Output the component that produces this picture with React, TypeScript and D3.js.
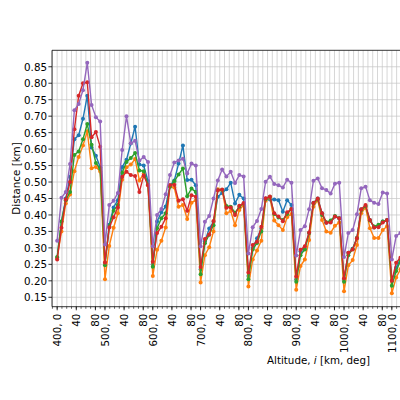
import React from 'react';
import * as d3 from 'd3';

const altitudes = [400, 500, 600, 700, 800, 900, 1000, 1100];
const inclinations = [0, 9, 18, 27, 36, 45, 54, 63, 72, 81, 90];
const yTicks = [0.15, 0.2, 0.25, 0.3, 0.35, 0.4, 0.45, 0.5, 0.55, 0.6, 0.65, 0.7, 0.75, 0.8, 0.85];
const xTickOffsets = [0, 40, 80];

const seriesBlue = [
  0.27, 0.38, 0.45, 0.515, 0.63, 0.642, 0.692, 0.762, 0.605, 0.58, 0.545,
  0.255, 0.37, 0.423, 0.445, 0.546, 0.568, 0.617, 0.668, 0.553, 0.55, 0.503,
  0.25, 0.38, 0.408, 0.426, 0.489, 0.505, 0.556, 0.611, 0.506, 0.507, 0.49,
  0.235, 0.32, 0.359, 0.379, 0.455, 0.467, 0.478, 0.498, 0.435, 0.461, 0.45,
  0.215, 0.3, 0.329, 0.359, 0.45, 0.447, 0.447, 0.445, 0.41, 0.445, 0.43,
  0.205, 0.29, 0.3, 0.345, 0.437, 0.45, 0.405, 0.376, 0.379, 0.395, 0.39,
  0.205, 0.285, 0.297, 0.33, 0.417, 0.425, 0.385, 0.362, 0.365, 0.38, 0.385,
  0.2, 0.24, 0.265,
];
const seriesOrange = [
  0.27, 0.35, 0.435, 0.462, 0.533, 0.576, 0.611, 0.654, 0.542, 0.546, 0.532,
  0.205, 0.306, 0.361, 0.405, 0.507, 0.545, 0.553, 0.57, 0.505, 0.525, 0.49,
  0.215, 0.294, 0.322, 0.362, 0.487, 0.483, 0.425, 0.43, 0.388, 0.437, 0.445,
  0.195, 0.278, 0.302, 0.35, 0.478, 0.476, 0.405, 0.412, 0.369, 0.415, 0.43,
  0.183, 0.265, 0.292, 0.322, 0.443, 0.453, 0.383, 0.369, 0.354, 0.393, 0.403,
  0.173, 0.245, 0.265, 0.324, 0.425, 0.445, 0.385, 0.35, 0.346, 0.367, 0.377,
  0.168, 0.247, 0.263, 0.309, 0.405, 0.423, 0.36, 0.33, 0.33, 0.354, 0.366,
  0.162, 0.21, 0.235,
];
const seriesGreen = [
  0.272, 0.38, 0.445, 0.47, 0.582, 0.593, 0.63, 0.676, 0.613, 0.558, 0.54,
  0.247, 0.366, 0.413, 0.43, 0.528, 0.561, 0.573, 0.588, 0.535, 0.533, 0.493,
  0.243, 0.36, 0.39, 0.405, 0.486, 0.502, 0.523, 0.541, 0.457, 0.48, 0.47,
  0.22, 0.314, 0.34, 0.369, 0.475, 0.476, 0.427, 0.425, 0.407, 0.425, 0.435,
  0.205, 0.295, 0.315, 0.35, 0.448, 0.455, 0.403, 0.392, 0.385, 0.403, 0.418,
  0.197, 0.278, 0.295, 0.345, 0.435, 0.448, 0.4, 0.378, 0.383, 0.397, 0.39,
  0.197, 0.278, 0.296, 0.33, 0.415, 0.427, 0.383, 0.365, 0.37, 0.38, 0.384,
  0.185, 0.23, 0.26,
];
const seriesRed = [
  0.265, 0.361, 0.447, 0.5, 0.66, 0.762, 0.8, 0.803, 0.636, 0.652, 0.607,
  0.256, 0.362, 0.393, 0.423, 0.516, 0.531, 0.521, 0.518, 0.47, 0.52, 0.49,
  0.258, 0.345, 0.364, 0.39, 0.491, 0.492, 0.443, 0.448, 0.413, 0.46, 0.455,
  0.242, 0.327, 0.341, 0.382, 0.475, 0.477, 0.422, 0.423, 0.4, 0.428, 0.436,
  0.225, 0.309, 0.319, 0.364, 0.451, 0.456, 0.405, 0.395, 0.381, 0.408, 0.418,
  0.213, 0.294, 0.305, 0.347, 0.436, 0.45, 0.405, 0.376, 0.377, 0.395, 0.39,
  0.208, 0.285, 0.295, 0.329, 0.417, 0.43, 0.385, 0.362, 0.363, 0.377, 0.385,
  0.2, 0.255, 0.27,
];
const seriesPurple = [
  0.322, 0.452, 0.47, 0.555, 0.718, 0.737, 0.779, 0.862, 0.734, 0.697, 0.684,
  0.31, 0.43, 0.443, 0.467, 0.597, 0.7, 0.618, 0.625, 0.565, 0.576, 0.561,
  0.305, 0.4, 0.418, 0.463, 0.521, 0.559, 0.565, 0.571, 0.526, 0.556, 0.55,
  0.305, 0.379, 0.397, 0.45, 0.505, 0.538, 0.517, 0.531, 0.497, 0.521, 0.517,
  0.283, 0.363, 0.382, 0.418, 0.501, 0.516, 0.494, 0.49, 0.483, 0.507, 0.498,
  0.277, 0.354, 0.366, 0.417, 0.504, 0.511, 0.481, 0.476, 0.465, 0.495, 0.498,
  0.272, 0.345, 0.354, 0.402, 0.481, 0.486, 0.445, 0.437, 0.433, 0.468, 0.465,
  0.265, 0.336, 0.345,
];

const seriesList = [
  { name: 'blue', color: '#1f77b4', values: seriesBlue },
  { name: 'orange', color: '#ff7f0e', values: seriesOrange },
  { name: 'green', color: '#2ca02c', values: seriesGreen },
  { name: 'red', color: '#d62728', values: seriesRed },
  { name: 'purple', color: '#9467bd', values: seriesPurple },
];

const FONT = 'DejaVu Sans, sans-serif';
const FS = 10.3;

export default function App() {
  const W = 400;
  const H = 400;
  const left = 52;
  const right = 585;
  const top = 50.3;
  const bottom = 306.7;

  const x = d3.scaleLinear().domain([-10.8, 1104]).range([left, right]);
  const y = d3.scaleLinear().domain([0.1214, 0.9]).range([bottom, top]);

  const posOf = (i: number) => {
    const g = Math.floor(i / inclinations.length);
    const k = i % inclinations.length;
    return g * 100 + inclinations[k];
  };

  const line = d3
    .line<number>()
    .x((_, i) => x(posOf(i)))
    .y((d) => y(d));

  const minorTicks = d3.range(-10, 1110, 10).filter((u) => x(u) >= left - 0.1 && x(u) <= W);
  const majorTicks: { u: number; label: string }[] = [];
  altitudes.forEach((alt, g) => {
    xTickOffsets.forEach((o) => {
      const u = g * 100 + o;
      if (x(u) + 6 <= W) {
        majorTicks.push({ u, label: o === 0 ? `${alt}, 0` : `${o}` });
      }
    });
  });

  return (
    <svg
      width={W}
      height={H}
      style={{ position: 'absolute', left: 0, top: 0, display: 'block', background: '#fff' }}
      fontFamily={FONT}
    >
      <defs>
        <clipPath id="plotclip">
          <rect x={left} y={top} width={right - left} height={bottom - top} />
        </clipPath>
      </defs>
      <rect x={0} y={0} width={W} height={H} fill="#fff" />
      <g clipPath="url(#plotclip)">
        {minorTicks.map((u) => (
          <line key={'vg' + u} x1={x(u)} x2={x(u)} y1={top} y2={bottom} stroke="#c4c4c4" strokeWidth={0.7} />
        ))}
        {yTicks.map((v) => (
          <line key={'hg' + v} x1={left} x2={right} y1={y(v)} y2={y(v)} stroke="#c4c4c4" strokeWidth={0.7} />
        ))}
      </g>
      <g clipPath="url(#plotclip)">
        {seriesList.map((s) => (
          <g key={s.name}>
            <path d={line(s.values) || ''} fill="none" stroke={s.color} strokeWidth={1.4} />
            {s.values.map((v, i) => (
              <circle key={i} cx={x(posOf(i))} cy={y(v)} r={2} fill={s.color} />
            ))}
          </g>
        ))}
      </g>
      <line x1={left} x2={left} y1={top} y2={bottom} stroke="#000" strokeWidth={0.8} />
      <line x1={left} x2={right} y1={bottom} y2={bottom} stroke="#000" strokeWidth={0.8} />
      <line x1={left} x2={right} y1={top} y2={top} stroke="#000" strokeWidth={0.8} />
      {minorTicks.map((u) => (
        <line key={'xm' + u} x1={x(u)} x2={x(u)} y1={bottom} y2={bottom + 2.1} stroke="#000" strokeWidth={0.6} />
      ))}
      {majorTicks.map((t) => (
        <g key={'xt' + t.u}>
          <line x1={x(t.u)} x2={x(t.u)} y1={bottom} y2={bottom + 3.6} stroke="#000" strokeWidth={0.8} />
          <text
            x={x(t.u)}
            y={bottom + 7}
            transform={`rotate(-90, ${x(t.u)}, ${bottom + 7})`}
            textAnchor="end"
            dominantBaseline="central"
            fontSize={FS}
            fill="#000"
          >
            {t.label}
          </text>
        </g>
      ))}
      {yTicks.map((v) => (
        <g key={'yt' + v}>
          <line x1={left - 3.6} x2={left} y1={y(v)} y2={y(v)} stroke="#000" strokeWidth={0.8} />
          <text x={left - 5} y={y(v)} textAnchor="end" dominantBaseline="central" fontSize={FS} fill="#000">
            {v.toFixed(2)}
          </text>
        </g>
      ))}
      <text
        x={16}
        y={(top + bottom) / 2}
        transform={`rotate(-90, 16, ${(top + bottom) / 2})`}
        textAnchor="middle"
        dominantBaseline="central"
        fontSize={FS}
        fill="#000"
      >
        Distance [km]
      </text>
      <text x={(left + right) / 2} y={364} textAnchor="middle" fontSize={FS} fill="#000">
        Altitude, <tspan fontStyle="italic">i</tspan> [km, deg]
      </text>
    </svg>
  );
}
